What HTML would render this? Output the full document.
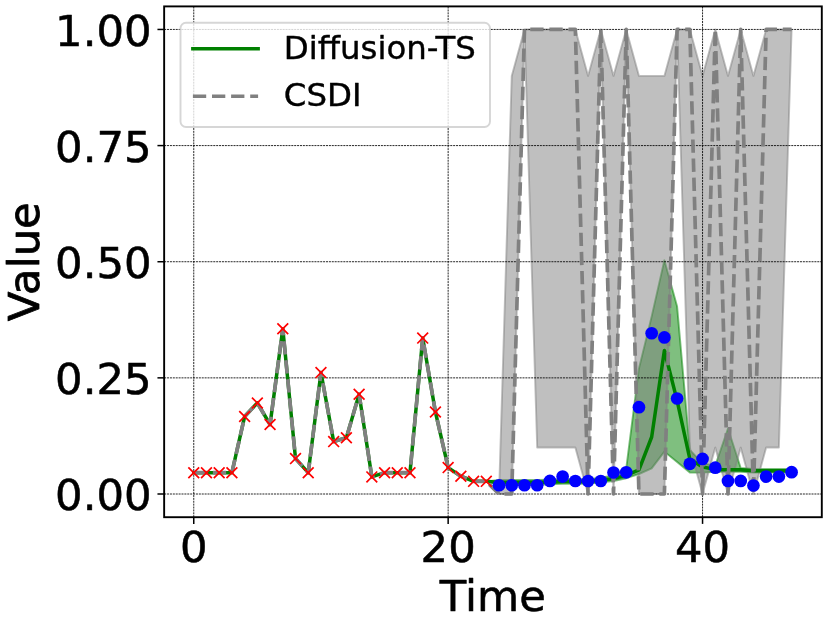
<!DOCTYPE html>
<html><head><meta charset="utf-8"><title>Chart</title>
<style>html,body{margin:0;padding:0;background:#fff}body{width:830px;height:623px;overflow:hidden}</style></head>
<body>
<svg width="830" height="623" viewBox="0 0 830 623" style="display:block">
<rect width="830" height="623" fill="#fff"/>
<defs><clipPath id="c"><rect x="164.15" y="6.4" width="657.65" height="510.80000000000007"/></clipPath></defs>
<g clip-path="url(#c)">
<polygon points="193.75,472.68 206.47,472.68 219.19,472.68 231.91,472.68 244.63,416.51 257.35,402.95 270.07,424.50 282.79,328.76 295.51,458.60 308.23,472.68 320.95,372.61 333.67,441.60 346.39,437.70 359.11,394.31 371.83,476.90 384.55,472.68 397.27,472.68 409.99,472.68 422.71,338.10 435.43,412.01 448.15,467.61 460.87,476.21 473.59,481.36 486.31,481.36 499.03,480.06 511.75,480.06 524.47,480.06 537.19,480.06 549.91,479.60 562.63,479.13 575.35,479.13 588.07,479.13 600.79,477.74 613.51,475.42 626.23,468.45 638.95,368.57 651.67,316.54 664.39,260.33 677.11,306.55 689.83,449.87 702.55,463.34 715.27,465.66 727.99,428.50 740.71,467.99 753.43,468.91 766.15,468.91 778.87,468.91 791.59,468.91 791.59,472.63 778.87,472.63 766.15,472.63 753.43,472.63 740.71,471.70 727.99,471.70 715.27,471.70 702.55,472.63 689.83,472.49 677.11,462.04 664.39,451.63 651.67,468.31 638.95,474.02 626.23,478.21 613.51,480.99 600.79,482.39 588.07,483.78 575.35,483.78 562.63,483.78 549.91,484.24 537.19,484.71 524.47,484.71 511.75,484.71 499.03,484.71 486.31,481.36 473.59,481.36 460.87,476.21 448.15,467.61 435.43,412.01 422.71,338.10 409.99,472.68 397.27,472.68 384.55,472.68 371.83,476.90 359.11,394.31 346.39,437.70 333.67,441.60 320.95,372.61 308.23,472.68 295.51,458.60 282.79,328.76 270.07,424.50 257.35,402.95 244.63,416.51 231.91,472.68 219.19,472.68 206.47,472.68 193.75,472.68" fill="#008000" fill-opacity="0.5" stroke="#008000" stroke-opacity="0.5" stroke-width="1.9" stroke-linejoin="round"/>
<polygon points="193.75,472.68 206.47,472.68 219.19,472.68 231.91,472.68 244.63,416.51 257.35,402.95 270.07,424.50 282.79,328.76 295.51,458.60 308.23,472.68 320.95,372.61 333.67,441.60 346.39,437.70 359.11,394.31 371.83,476.90 384.55,472.68 397.27,472.68 409.99,472.68 422.71,338.10 435.43,412.01 448.15,467.61 460.87,476.21 473.59,481.36 486.31,481.36 499.03,494.00 511.75,75.90 524.47,29.45 537.19,29.45 549.91,29.45 562.63,29.45 575.35,29.45 588.07,75.90 600.79,29.45 613.51,75.90 626.23,29.45 638.95,75.90 651.67,75.90 664.39,75.90 677.11,29.45 689.83,29.45 702.55,75.90 715.27,29.45 727.99,75.90 740.71,29.45 753.43,75.90 766.15,29.45 778.87,29.45 791.59,29.45 791.59,29.45 778.87,447.55 766.15,447.55 753.43,494.00 740.71,447.55 727.99,494.00 715.27,447.55 702.55,494.00 689.83,447.55 677.11,29.45 664.39,494.00 651.67,494.00 638.95,494.00 626.23,29.45 613.51,494.00 600.79,29.45 588.07,494.00 575.35,447.55 562.63,447.55 549.91,447.55 537.19,447.55 524.47,29.45 511.75,494.00 499.03,494.00 486.31,481.36 473.59,481.36 460.87,476.21 448.15,467.61 435.43,412.01 422.71,338.10 409.99,472.68 397.27,472.68 384.55,472.68 371.83,476.90 359.11,394.31 346.39,437.70 333.67,441.60 320.95,372.61 308.23,472.68 295.51,458.60 282.79,328.76 270.07,424.50 257.35,402.95 244.63,416.51 231.91,472.68 219.19,472.68 206.47,472.68 193.75,472.68" fill="#808080" fill-opacity="0.5" stroke="#808080" stroke-opacity="0.5" stroke-width="1.9" stroke-linejoin="round"/>
<g stroke="#000" stroke-width="0.85" stroke-dasharray="2.02,0.87" fill="none">
<line x1="193.75" y1="517.2" x2="193.75" y2="6.4"/>
<line x1="448.15" y1="517.2" x2="448.15" y2="6.4"/>
<line x1="702.55" y1="517.2" x2="702.55" y2="6.4"/>
<line x1="164.15" y1="494.00" x2="821.8" y2="494.00"/>
<line x1="164.15" y1="377.86" x2="821.8" y2="377.86"/>
<line x1="164.15" y1="261.73" x2="821.8" y2="261.73"/>
<line x1="164.15" y1="145.59" x2="821.8" y2="145.59"/>
<line x1="164.15" y1="29.45" x2="821.8" y2="29.45"/>
</g>
<polyline points="193.75,472.68 206.47,472.68 219.19,472.68 231.91,472.68 244.63,416.51 257.35,402.95 270.07,424.50 282.79,328.76 295.51,458.60 308.23,472.68 320.95,372.61 333.67,441.60 346.39,437.70 359.11,394.31 371.83,476.90 384.55,472.68 397.27,472.68 409.99,472.68 422.71,338.10 435.43,412.01 448.15,467.61 460.87,476.21 473.59,481.36 486.31,481.36 499.03,482.39 511.75,482.39 524.47,482.39 537.19,482.39 549.91,481.92 562.63,481.46 575.35,481.46 588.07,481.46 600.79,480.06 613.51,478.67 626.23,475.42 638.95,469.84 651.67,437.00 664.39,350.45 677.11,400.67 689.83,458.93 702.55,467.06 715.27,469.38 727.99,469.84 740.71,469.84 753.43,470.77 766.15,470.77 778.87,470.77 791.59,470.77" fill="none" stroke="#008000" stroke-width="3.5" stroke-linejoin="round" stroke-linecap="square"/>
<polyline points="193.75,472.68 206.47,472.68 219.19,472.68 231.91,472.68 244.63,416.51 257.35,402.95 270.07,424.50 282.79,328.76 295.51,458.60 308.23,472.68 320.95,372.61 333.67,441.60 346.39,437.70 359.11,394.31 371.83,476.90 384.55,472.68 397.27,472.68 409.99,472.68 422.71,338.10 435.43,412.01 448.15,467.61 460.87,476.21 473.59,481.36 486.31,481.36" fill="none" stroke="#808080" stroke-width="3.7" stroke-dasharray="13.31,5.803" stroke-linejoin="round"/>
<polyline points="486.31,481.36 499.03,494.00 511.75,494.00 524.47,29.45 537.19,29.45 549.91,29.45 562.63,29.45 575.35,29.45 588.07,494.00 600.79,29.45 613.51,494.00 626.23,29.45 638.95,494.00 651.67,494.00 664.39,494.00 677.11,29.45 689.83,29.45 702.55,494.00 715.27,29.45 727.99,494.00 740.71,29.45 753.43,494.00 766.15,29.45 778.87,29.45 791.59,29.45" fill="none" stroke="#808080" stroke-width="3.7" stroke-dasharray="13.31,5.803" stroke-dashoffset="14.875" stroke-linejoin="round"/>
<circle cx="499.03" cy="485.27" r="6.35" fill="#0000ff"/>
<circle cx="511.75" cy="485.27" r="6.35" fill="#0000ff"/>
<circle cx="524.47" cy="485.27" r="6.35" fill="#0000ff"/>
<circle cx="537.19" cy="485.27" r="6.35" fill="#0000ff"/>
<circle cx="549.91" cy="480.90" r="6.35" fill="#0000ff"/>
<circle cx="562.63" cy="476.58" r="6.35" fill="#0000ff"/>
<circle cx="575.35" cy="480.99" r="6.35" fill="#0000ff"/>
<circle cx="588.07" cy="480.99" r="6.35" fill="#0000ff"/>
<circle cx="600.79" cy="480.99" r="6.35" fill="#0000ff"/>
<circle cx="613.51" cy="472.49" r="6.35" fill="#0000ff"/>
<circle cx="626.23" cy="472.35" r="6.35" fill="#0000ff"/>
<circle cx="638.95" cy="407.18" r="6.35" fill="#0000ff"/>
<circle cx="651.67" cy="333.27" r="6.35" fill="#0000ff"/>
<circle cx="664.39" cy="337.45" r="6.35" fill="#0000ff"/>
<circle cx="677.11" cy="398.49" r="6.35" fill="#0000ff"/>
<circle cx="689.83" cy="463.80" r="6.35" fill="#0000ff"/>
<circle cx="702.55" cy="458.97" r="6.35" fill="#0000ff"/>
<circle cx="715.27" cy="467.66" r="6.35" fill="#0000ff"/>
<circle cx="727.99" cy="480.90" r="6.35" fill="#0000ff"/>
<circle cx="740.71" cy="480.90" r="6.35" fill="#0000ff"/>
<circle cx="753.43" cy="485.50" r="6.35" fill="#0000ff"/>
<circle cx="766.15" cy="476.58" r="6.35" fill="#0000ff"/>
<circle cx="778.87" cy="476.58" r="6.35" fill="#0000ff"/>
<circle cx="791.59" cy="472.21" r="6.35" fill="#0000ff"/>
<g stroke="#ff0000" stroke-width="1.7" fill="none">
<path d="M188.35 467.28L199.15 478.08M188.35 478.08L199.15 467.28"/>
<path d="M201.07 467.28L211.87 478.08M201.07 478.08L211.87 467.28"/>
<path d="M213.79 467.28L224.59 478.08M213.79 478.08L224.59 467.28"/>
<path d="M226.51 467.28L237.31 478.08M226.51 478.08L237.31 467.28"/>
<path d="M239.23 411.11L250.03 421.91M239.23 421.91L250.03 411.11"/>
<path d="M251.95 397.55L262.75 408.35M251.95 408.35L262.75 397.55"/>
<path d="M264.67 419.10L275.47 429.90M264.67 429.90L275.47 419.10"/>
<path d="M277.39 323.36L288.19 334.16M277.39 334.16L288.19 323.36"/>
<path d="M290.11 453.20L300.91 464.00M290.11 464.00L300.91 453.20"/>
<path d="M302.83 467.28L313.63 478.08M302.83 478.08L313.63 467.28"/>
<path d="M315.55 367.21L326.35 378.01M315.55 378.01L326.35 367.21"/>
<path d="M328.27 436.20L339.07 447.00M328.27 447.00L339.07 436.20"/>
<path d="M340.99 432.30L351.79 443.10M340.99 443.10L351.79 432.30"/>
<path d="M353.71 388.91L364.51 399.71M353.71 399.71L364.51 388.91"/>
<path d="M366.43 471.50L377.23 482.30M366.43 482.30L377.23 471.50"/>
<path d="M379.15 467.28L389.95 478.08M379.15 478.08L389.95 467.28"/>
<path d="M391.87 467.28L402.67 478.08M391.87 478.08L402.67 467.28"/>
<path d="M404.59 467.28L415.39 478.08M404.59 478.08L415.39 467.28"/>
<path d="M417.31 332.70L428.11 343.50M417.31 343.50L428.11 332.70"/>
<path d="M430.03 406.61L440.83 417.41M430.03 417.41L440.83 406.61"/>
<path d="M442.75 462.21L453.55 473.01M442.75 473.01L453.55 462.21"/>
<path d="M455.47 470.81L466.27 481.61M455.47 481.61L466.27 470.81"/>
<path d="M468.19 475.96L478.99 486.76M468.19 486.76L478.99 475.96"/>
<path d="M480.91 475.96L491.71 486.76M480.91 486.76L491.71 475.96"/>
</g>
</g>
<g stroke="#000" stroke-width="1.5">
<line x1="193.75" y1="517.2" x2="193.75" y2="523.9000000000001"/>
<line x1="448.15" y1="517.2" x2="448.15" y2="523.9000000000001"/>
<line x1="702.55" y1="517.2" x2="702.55" y2="523.9000000000001"/>
<line x1="164.15" y1="494.00" x2="157.45000000000002" y2="494.00"/>
<line x1="164.15" y1="377.86" x2="157.45000000000002" y2="377.86"/>
<line x1="164.15" y1="261.73" x2="157.45000000000002" y2="261.73"/>
<line x1="164.15" y1="145.59" x2="157.45000000000002" y2="145.59"/>
<line x1="164.15" y1="29.45" x2="157.45000000000002" y2="29.45"/>
</g>
<rect x="164.15" y="6.4" width="657.65" height="510.80000000000007" fill="none" stroke="#000" stroke-width="1.9"/>
<g font-family="'DejaVu Sans', 'Liberation Sans', sans-serif" font-size="43.3" fill="#000" stroke="#000" stroke-width="0.55" stroke-linejoin="round">
<text x="193.75" y="561.9" text-anchor="middle">0</text>
<text x="448.15" y="561.9" text-anchor="middle">20</text>
<text x="702.55" y="561.9" text-anchor="middle">40</text>
<text x="151.5" y="510.10" text-anchor="end">0.00</text>
<text x="151.5" y="393.96" text-anchor="end">0.25</text>
<text x="151.5" y="277.83" text-anchor="end">0.50</text>
<text x="151.5" y="161.69" text-anchor="end">0.75</text>
<text x="151.5" y="45.55" text-anchor="end">1.00</text>
<text x="492.8" y="610.8" text-anchor="middle">Time</text>
<text transform="translate(38.9,261.7) rotate(-90)" text-anchor="middle" stroke-width="0.8">Value</text>
</g>
<rect x="180.5" y="22.8" width="309.5" height="104.2" rx="5.5" ry="5.5" fill="#fff" fill-opacity="0.8" stroke="#cccccc" stroke-opacity="0.8" stroke-width="1.9"/>
<line x1="192.9" y1="48.8" x2="258.1" y2="48.8" stroke="#008000" stroke-width="3.6" stroke-linecap="square"/>
<line x1="192.9" y1="96.3" x2="258.1" y2="96.3" stroke="#808080" stroke-width="3.6" stroke-dasharray="13.3,5.8"/>
<g font-family="'DejaVu Sans', 'Liberation Sans', sans-serif" font-size="32.4" fill="#000" stroke="#000" stroke-width="0.4" stroke-linejoin="round">
<text x="283.8" y="59.4">Diffusion-TS</text>
<text x="283.8" y="106.4">CSDI</text>
</g>
</svg>
</body></html>
